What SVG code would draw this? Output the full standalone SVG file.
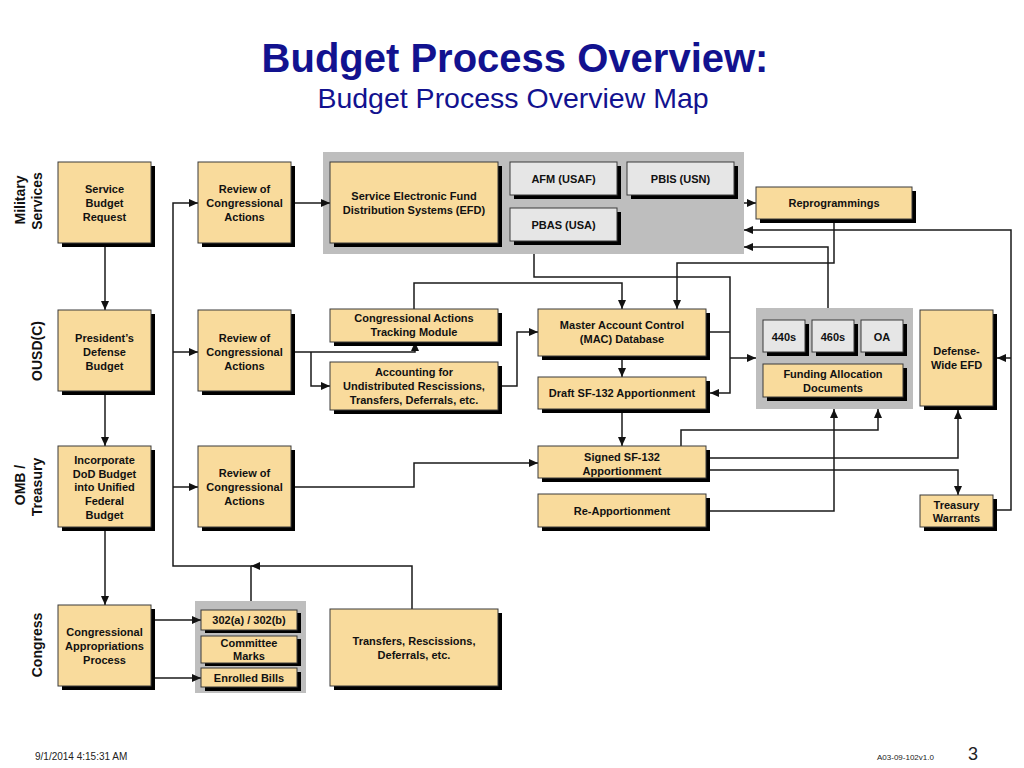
<svg xmlns="http://www.w3.org/2000/svg" width="1024" height="768" viewBox="0 0 1024 768">
<defs>
<style>
.bx{fill:#F9DB9C;stroke:#3a3a3a;stroke-width:1}
.gb{fill:#E6E6E6;stroke:#3a3a3a;stroke-width:1}
.grp{fill:#BEBEBE}
.sh{fill:#000}
.t{font-family:"Liberation Sans",Arial,sans-serif;font-weight:bold;font-size:11px;fill:#111;text-anchor:middle}
.row{font-family:"Liberation Sans",Arial,sans-serif;font-weight:bold;font-size:14px;fill:#111;text-anchor:middle}
.c{fill:none;stroke:#1a1a1a;stroke-width:1.5}
.ft{font-family:"Liberation Sans",Arial,sans-serif;fill:#222}
</style>
<marker id="ah" markerWidth="9" markerHeight="8" refX="9" refY="4" orient="auto" markerUnits="userSpaceOnUse">
<path d="M0,0 L9,4 L0,8 z" fill="#111"/>
</marker>
</defs>
<rect width="1024" height="768" fill="#fff"/>

<g id="title">
<text x="515" y="72" font-family="Liberation Sans,Arial,sans-serif" font-weight="bold" font-size="40" fill="#12128f" text-anchor="middle">Budget Process Overview:</text>
<text x="513" y="108" font-family="Liberation Sans,Arial,sans-serif" font-size="28.5" fill="#12128f" text-anchor="middle">Budget Process Overview Map</text>
</g>

<g id="row-labels">
<text class="row" transform="translate(25,200) rotate(-90)">Military</text>
<text class="row" transform="translate(42,201) rotate(-90)">Services</text>
<text class="row" transform="translate(42,351) rotate(-90)">OUSD(C)</text>
<text class="row" transform="translate(25,485) rotate(-90)">OMB /</text>
<text class="row" transform="translate(42,487) rotate(-90)">Treasury</text>
<text class="row" transform="translate(42,645) rotate(-90)">Congress</text>
</g>

<!-- group backgrounds -->
<g id="efd-group"><rect class="grp" x="323" y="152" width="421" height="102"/></g>
<g id="funding-group"><rect class="grp" x="756" y="308" width="157" height="101"/></g>
<g id="congress-group"><rect class="grp" x="195" y="601" width="111" height="92"/></g>

<g id="connectors">
<path class="c" d="M105,243 V310" marker-end="url(#ah)"/>
<path class="c" d="M105,391 V446" marker-end="url(#ah)"/>
<path class="c" d="M105,527 V605" marker-end="url(#ah)"/>
<path class="c" d="M412,609 V566 H251" marker-end="url(#ah)"/>
<path class="c" d="M251,601 V566 H173 V203 H198" marker-end="url(#ah)"/>
<path class="c" d="M173,352 H198" marker-end="url(#ah)"/>
<path class="c" d="M173,487 H198" marker-end="url(#ah)"/>
<path class="c" d="M291,203 H330" marker-end="url(#ah)"/>
<path class="c" d="M291,352 H415 V342" marker-end="url(#ah)"/>
<path class="c" d="M311,352 V386 H330" marker-end="url(#ah)"/>
<path class="c" d="M414,309 V283 H622 V309" marker-end="url(#ah)"/>
<path class="c" d="M498,386 H517 V332 H538" marker-end="url(#ah)"/>
<path class="c" d="M622,356 V377" marker-end="url(#ah)"/>
<path class="c" d="M622,409 V446" marker-end="url(#ah)"/>
<path class="c" d="M534,254 V277 H730 V393 H710" marker-end="url(#ah)"/>
<path class="c" d="M706,332 H730"/>
<path class="c" d="M730,358 H756" marker-end="url(#ah)"/>
<path class="c" d="M834,219 V263 H677 V309" marker-end="url(#ah)"/>
<path class="c" d="M744,203 H756" marker-end="url(#ah)"/>
<path class="c" d="M993,510 H1011 V230 H744" marker-end="url(#ah)"/>
<path class="c" d="M1011,358 H997" marker-end="url(#ah)"/>
<path class="c" d="M828,308 V247 H744" marker-end="url(#ah)"/>
<path class="c" d="M681,446 V430 H878 V409" marker-end="url(#ah)"/>
<path class="c" d="M706,458 H958 V410" marker-end="url(#ah)"/>
<path class="c" d="M706,470 H958 V495" marker-end="url(#ah)"/>
<path class="c" d="M706,511 H834 V409" marker-end="url(#ah)"/>
<path class="c" d="M291,487 H414 V463 H538" marker-end="url(#ah)"/>
<path class="c" d="M151,620 H201" marker-end="url(#ah)"/>
<path class="c" d="M151,678 H201" marker-end="url(#ah)"/>
</g>

<g id="service-budget-request">
<rect class="sh" x="62" y="166" width="93" height="81"/><rect class="bx" x="58" y="162" width="93" height="81"/>
<text class="t" x="104.5" y="193">Service</text><text class="t" x="104.5" y="207">Budget</text><text class="t" x="104.5" y="221">Request</text>
</g>
<g id="review-1">
<rect class="sh" x="202" y="166" width="93" height="81"/><rect class="bx" x="198" y="162" width="93" height="81"/>
<text class="t" x="244.5" y="193">Review of</text><text class="t" x="244.5" y="207">Congressional</text><text class="t" x="244.5" y="221">Actions</text>
</g>
<g id="presidents-budget">
<rect class="sh" x="62" y="314" width="93" height="81"/><rect class="bx" x="58" y="310" width="93" height="81"/>
<text class="t" x="104.5" y="342">President’s</text><text class="t" x="104.5" y="356">Defense</text><text class="t" x="104.5" y="370">Budget</text>
</g>
<g id="review-2">
<rect class="sh" x="202" y="314" width="93" height="81"/><rect class="bx" x="198" y="310" width="93" height="81"/>
<text class="t" x="244.5" y="342">Review of</text><text class="t" x="244.5" y="356">Congressional</text><text class="t" x="244.5" y="370">Actions</text>
</g>
<g id="incorporate">
<rect class="sh" x="62" y="450" width="93" height="81"/><rect class="bx" x="58" y="446" width="93" height="81"/>
<text class="t" x="104.5" y="464">Incorporate</text><text class="t" x="104.5" y="477.7">DoD Budget</text><text class="t" x="104.5" y="491.4">into Unified</text><text class="t" x="104.5" y="505.1">Federal</text><text class="t" x="104.5" y="518.8">Budget</text>
</g>
<g id="review-3">
<rect class="sh" x="202" y="450" width="93" height="81"/><rect class="bx" x="198" y="446" width="93" height="81"/>
<text class="t" x="244.5" y="477">Review of</text><text class="t" x="244.5" y="491">Congressional</text><text class="t" x="244.5" y="505">Actions</text>
</g>
<g id="congressional-appropriations">
<rect class="sh" x="62" y="609" width="93" height="81"/><rect class="bx" x="58" y="605" width="93" height="81"/>
<text class="t" x="104.5" y="636">Congressional</text><text class="t" x="104.5" y="650">Appropriations</text><text class="t" x="104.5" y="664">Process</text>
</g>
<g id="b302">
<rect class="sh" x="205" y="613" width="96" height="20"/><rect class="bx" x="201" y="610" width="96" height="20"/>
<text class="t" x="249" y="624">302(a) / 302(b)</text>
</g>
<g id="committee-marks">
<rect class="sh" x="205" y="639" width="96" height="27"/><rect class="bx" x="201" y="636" width="96" height="27"/>
<text class="t" x="249" y="647">Committee</text><text class="t" x="249" y="660">Marks</text>
</g>
<g id="enrolled-bills">
<rect class="sh" x="205" y="672" width="96" height="19"/><rect class="bx" x="201" y="668" width="96" height="19"/>
<text class="t" x="249" y="682">Enrolled Bills</text>
</g>
<g id="transfers">
<rect class="sh" x="334" y="613" width="168" height="77"/><rect class="bx" x="330" y="609" width="168" height="77"/>
<text class="t" x="414" y="645">Transfers, Rescissions,</text><text class="t" x="414" y="659">Deferrals, etc.</text>
</g>
<g id="service-efd">
<rect class="sh" x="334" y="166" width="168" height="81"/><rect class="bx" x="330" y="162" width="168" height="81"/>
<text class="t" x="414" y="200">Service Electronic Fund</text><text class="t" x="414" y="214">Distribution Systems (EFD)</text>
</g>
<g id="afm">
<rect class="sh" x="514" y="166" width="107" height="33"/><rect class="gb" x="510" y="162" width="107" height="33"/>
<text class="t" x="563.5" y="182.5">AFM (USAF)</text>
</g>
<g id="pbis">
<rect class="sh" x="631" y="166" width="107" height="33"/><rect class="gb" x="627" y="162" width="107" height="33"/>
<text class="t" x="680.5" y="182.5">PBIS (USN)</text>
</g>
<g id="pbas">
<rect class="sh" x="514" y="212" width="107" height="33"/><rect class="gb" x="510" y="208" width="107" height="33"/>
<text class="t" x="563.5" y="228.5">PBAS (USA)</text>
</g>
<g id="reprogrammings">
<rect class="sh" x="760" y="191" width="156" height="32"/><rect class="bx" x="756" y="187" width="156" height="32"/>
<text class="t" x="834" y="207">Reprogrammings</text>
</g>
<g id="catm">
<rect class="sh" x="334" y="313" width="168" height="33"/><rect class="bx" x="330" y="309" width="168" height="33"/>
<text class="t" x="414" y="322">Congressional Actions</text><text class="t" x="414" y="336">Tracking Module</text>
</g>
<g id="accounting">
<rect class="sh" x="334" y="366" width="168" height="48"/><rect class="bx" x="330" y="362" width="168" height="48"/>
<text class="t" x="414" y="376">Accounting for</text><text class="t" x="414" y="390">Undistributed Rescissions,</text><text class="t" x="414" y="404">Transfers, Deferrals, etc.</text>
</g>
<g id="mac">
<rect class="sh" x="542" y="313" width="168" height="47"/><rect class="bx" x="538" y="309" width="168" height="47"/>
<text class="t" x="622" y="329">Master Account Control</text><text class="t" x="622" y="343">(MAC) Database</text>
</g>
<g id="draft-sf132">
<rect class="sh" x="542" y="381" width="168" height="32"/><rect class="bx" x="538" y="377" width="168" height="32"/>
<text class="t" x="622" y="397">Draft SF-132 Apportionment</text>
</g>
<g id="signed-sf132">
<rect class="sh" x="542" y="450" width="168" height="32"/><rect class="bx" x="538" y="446" width="168" height="32"/>
<text class="t" x="622" y="461">Signed SF-132</text><text class="t" x="622" y="474.5">Apportionment</text>
</g>
<g id="re-apportionment">
<rect class="sh" x="542" y="498" width="168" height="33"/><rect class="bx" x="538" y="494" width="168" height="33"/>
<text class="t" x="622" y="515">Re-Apportionment</text>
</g>
<g id="b440s">
<rect class="sh" x="767" y="324" width="42" height="32"/><rect class="gb" x="763" y="320" width="42" height="32"/>
<text class="t" x="784" y="340.5">440s</text>
</g>
<g id="b460s">
<rect class="sh" x="816" y="324" width="42" height="32"/><rect class="gb" x="812" y="320" width="42" height="32"/>
<text class="t" x="833" y="340.5">460s</text>
</g>
<g id="oa">
<rect class="sh" x="865" y="324" width="42" height="32"/><rect class="gb" x="861" y="320" width="42" height="32"/>
<text class="t" x="882" y="340.5">OA</text>
</g>
<g id="funding-allocation">
<rect class="sh" x="767" y="368" width="140" height="33"/><rect class="bx" x="763" y="364" width="140" height="33"/>
<text class="t" x="833" y="377.5">Funding Allocation</text><text class="t" x="833" y="391.5">Documents</text>
</g>
<g id="defense-wide-efd">
<rect class="sh" x="924" y="314" width="73" height="96"/><rect class="bx" x="920" y="310" width="73" height="96"/>
<text class="t" x="956.5" y="355">Defense-</text><text class="t" x="956.5" y="369">Wide EFD</text>
</g>
<g id="treasury-warrants">
<rect class="sh" x="924" y="499" width="73" height="32"/><rect class="bx" x="920" y="495" width="73" height="32"/>
<text class="t" x="956.5" y="508.5">Treasury</text><text class="t" x="956.5" y="522">Warrants</text>
</g>

<g id="footer">
<text class="ft" x="35" y="760" font-size="10">9/1/2014 4:15:31 AM</text>
<text class="ft" x="877" y="760" font-size="8">A03-09-102v1.0</text>
<text class="ft" x="968" y="760" font-size="18">3</text>
</g>
</svg>
